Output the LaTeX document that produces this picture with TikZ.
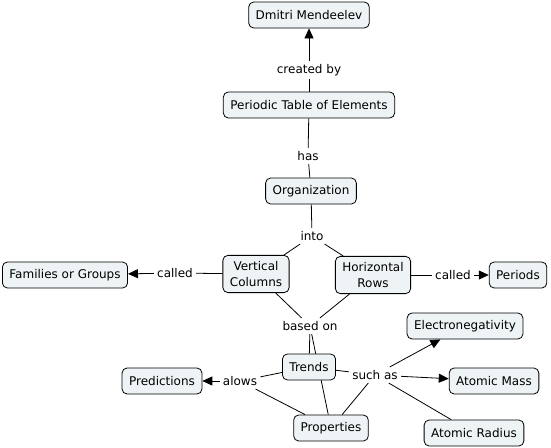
\documentclass[tikz,border=0pt]{standalone}
\usepackage{fontspec}
\setmainfont{DejaVu Sans}
\usetikzlibrary{arrows.meta,positioning,backgrounds}
\definecolor{cmapfill}{RGB}{238,243,245}
\tikzset{
  >={Triangle[length=10pt,width=9pt]},
  concept/.style = {draw, rounded corners=5pt, fill=cmapfill, inner xsep=7pt, inner ysep=6pt, minimum height=26pt, align=center, line width=0.8pt},
  link/.style = {inner sep=3pt, align=center},
  every node/.style = {font=\fontsize{12}{16}\selectfont},
  every path/.style = {line width=0.8pt}
}

\begin{document}
\begin{tikzpicture}[x=1pt, y=-1pt]
\useasboundingbox (0,0) rectangle (551,447);

% concepts
\node[concept] (dmitri) at (309,15) {Dmitri Mendeelev};
\node[concept] (ptoe) at (309,105) {Periodic Table of Elements};
\node[concept] (org) at (311,191) {Organization};
\node[concept] (vcols) at (256,274) {Vertical\\Columns};
\node[concept] (hrows) at (373,275) {Horizontal\\Rows};
\node[concept] (fam) at (65,275) {Families or Groups};
\node[concept] (periods) at (518,275) {Periods};
\node[concept] (trends) at (309,367) {Trends};
\node[concept] (pred) at (162,381) {Predictions};
\node[concept] (props) at (331,428) {Properties};
\node[concept] (eneg) at (465,326) {Electronegativity};
\node[concept] (amass) at (494,381) {Atomic Mass};
\node[concept] (arad) at (474,433) {Atomic Radius};

% linking phrases
\node[link] (createdby) at (309,70) {created by};
\node[link] (has) at (308,156) {has};
\node[link] (into) at (312,236) {into};
\node[link] (calledL) at (175,273) {called};
\node[link] (calledR) at (453,275) {called};
\node[link] (basedon) at (310,326) {based on};
\node[link] (alows) at (240,381) {alows};
\node[link] (suchas) at (375,375) {such as};

\begin{pgfonlayer}{background}
\draw (ptoe) -- (createdby);
\draw[->] (createdby) -- (dmitri);
\draw (ptoe) -- (has);
\draw (has) -- (org);
\draw (org) -- (into);
\draw (into) -- (vcols);
\draw (into) -- (hrows);
\draw (vcols) -- (calledL);
\draw[->] (calledL) -- (fam);
\draw (hrows) -- (calledR);
\draw[->] (calledR) -- (periods);
\draw (vcols) -- (basedon);
\draw (hrows) -- (basedon);
\draw (basedon) -- (trends);
\draw (basedon) -- (props);
\draw (trends) -- (alows);
\draw (props) -- (alows);
\draw[->] (alows) -- (pred);
\draw (trends) -- (suchas);
\draw (props) -- (suchas);
\draw[->] (suchas) -- (eneg);
\draw[->] (suchas) -- (amass);
\draw (suchas) -- (arad);
\end{pgfonlayer}
\end{tikzpicture}
\end{document}
